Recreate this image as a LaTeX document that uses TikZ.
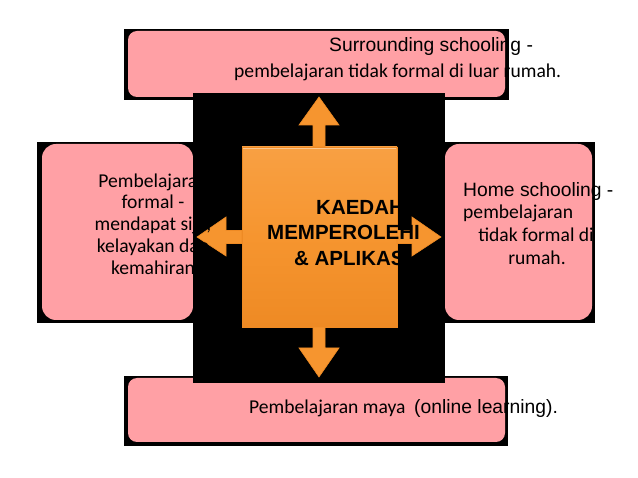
\documentclass[tikz,border=0pt]{standalone}
\usepackage{fontspec}
\setmainfont{Carlito}
\newfontfamily\arialfont{Liberation Sans}
\definecolor{pinkfill}{HTML}{FFA0A5}
\definecolor{orangefill}{HTML}{F6952F}
\definecolor{orangelight}{HTML}{F8A043}
\definecolor{orangedark}{HTML}{EE8A24}

\begin{document}
\begin{tikzpicture}[x=1pt,y=-1pt]
    \tikzset{
      every node/.style={inner sep=0pt, text=black},
      pinkbox/.style={fill=pinkfill, rounded corners=14pt},
      barbox/.style={fill=pinkfill, rounded corners=9pt},
      blockarrow/.style={fill=orangefill, draw=orangedark, line width=0.6pt, line join=miter},
      calibri/.style={font=\fontsize{19.6}{23}\selectfont},
      arial/.style={font=\arialfont\fontsize{19.3}{23}\selectfont},
      titletext/.style={font=\arialfont\bfseries\fontsize{20.5}{24}\selectfont}
    }
    \useasboundingbox (0,0) rectangle (638,478);
    \fill [white] (0,0) rectangle (638,478);
    % outer boxes
    \fill [black] (124,29) rectangle (509,100);
    \fill [barbox] (128,31) rectangle (505,97);
    \fill [black] (124,376) rectangle (508,446);
    \fill [barbox] (128,378) rectangle (505,442);
    \fill [black] (37,142) rectangle (196,323);
    \fill [pinkbox] (42,144) rectangle (193,320);
    \fill [black] (443,142) rectangle (595,323);
    \fill [pinkbox] (445,144) rectangle (592,320);
    % centre block
    \fill [black] (193,93) rectangle (445,383);
    \shade [top color=orangelight, bottom color=orangedark, middle color=orangefill, draw=orangedark]
      (242,147) rectangle (397,327);
    \fill [orangelight!60!white] (243,148) rectangle (396,149.5);
    % arrows
    \filldraw [blockarrow] (313,147) -- (313,125) -- (299,125) -- (319,97) -- (339,125) -- (325,125) -- (325,147) -- cycle;
    \filldraw [blockarrow] (313,327) -- (313,348) -- (299,348) -- (319,377) -- (339,348) -- (325,348) -- (325,327) -- cycle;
    \filldraw [blockarrow] (242,230.5) -- (226,230.5) -- (226,217) -- (197,237) -- (226,256) -- (226,243.5) -- (242,243.5) -- cycle;
    \filldraw [blockarrow] (397,230.5) -- (412,230.5) -- (412,217) -- (441,237) -- (412,256) -- (412,243.5) -- (397,243.5) -- cycle;
    % centre text
    \node [titletext, anchor=base west] (kaedah) at (316,215) {KAEDAH};
    \node [titletext, anchor=base west] (memperolehi) at (267,240) {MEMPEROLEHI};
    \node [titletext, anchor=base west] (aplikasi) at (294,266) {\& APLIKASI};
    % top box
    \node [arial, anchor=base west] (surround) at (329,52) {Surrounding schooling -};
    \node [calibri, anchor=base west] (surrounddesc) at (234,78) {pembelajaran tidak formal di luar rumah.};
    % left box
    \node [calibri, anchor=base] (formal1) at (153,188) {Pembelajaran};
    \node [calibri, anchor=base] (formal2) at (153,209) {formal -};
    \node [calibri, anchor=base] (formal3) at (153,231) {mendapat sijil,};
    \node [calibri, anchor=base] (formal4) at (153,253) {kelayakan dan};
    \node [calibri, anchor=base] (formal5) at (153,275) {kemahiran};
    % right box
    \node [arial, anchor=base west] (home1) at (463,197) {Home schooling -};
    \node [calibri, anchor=base west] (home2) at (463,219) {pembelajaran};
    \node [calibri, anchor=base] (home3) at (536,242) {tidak formal di};
    \node [calibri, anchor=base] (home4) at (537,265) {rumah.};
    % bottom box
    \node [calibri, anchor=base west] (maya) at (249,414) {Pembelajaran maya};
    \node [arial, anchor=base west] (online) at (414,414) {(online learning).};
\end{tikzpicture}
\end{document}
